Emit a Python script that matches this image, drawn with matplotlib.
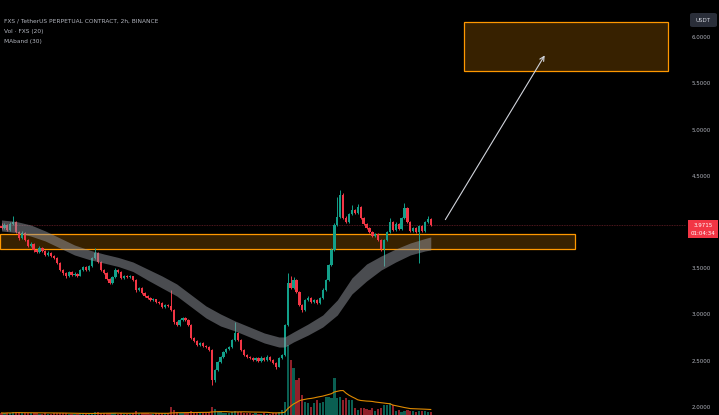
import matplotlib
matplotlib.use("Agg")
import matplotlib.pyplot as plt
from matplotlib.patches import Rectangle, FancyBboxPatch
import numpy as np
import pandas as pd

# ---- FXS/USDT perpetual, 2h candles ----
opens = [3.957, 3.935, 3.968, 3.914, 3.978, 4.000, 3.892, 3.827, 3.881, 3.805,
         3.740, 3.762, 3.697, 3.675, 3.719, 3.686, 3.643, 3.664, 3.632, 3.610,
         3.556, 3.480, 3.448, 3.415, 3.459, 3.426, 3.437, 3.415, 3.480, 3.513,
         3.480, 3.524, 3.610, 3.664, 3.567, 3.480, 3.448, 3.383, 3.340, 3.405,
         3.480, 3.459, 3.394, 3.415, 3.405, 3.415, 3.372, 3.264, 3.285, 3.231,
         3.199, 3.177, 3.155, 3.162, 3.134, 3.123, 3.080, 3.101, 3.091, 3.047,
         2.917, 2.885, 2.939, 2.961, 2.939, 2.885, 2.744, 2.712, 2.668, 2.690,
         2.657, 2.646, 2.614, 2.289, 2.397, 2.484, 2.538, 2.592, 2.625, 2.646,
         2.722, 2.798, 2.722, 2.614, 2.560, 2.538, 2.527, 2.506, 2.527, 2.495,
         2.527, 2.506, 2.538, 2.506, 2.473, 2.430, 2.527, 2.560, 2.885, 3.340,
         3.285, 3.372, 3.242, 3.101, 3.047, 3.155, 3.177, 3.134, 3.155, 3.123,
         3.177, 3.264, 3.372, 3.534, 3.697, 3.968, 4.054, 4.293, 4.043, 4.000,
         4.087, 4.130, 4.097, 4.163, 4.043, 3.978, 3.935, 3.892, 3.848, 3.870,
         3.805, 3.708, 3.805, 3.892, 4.000, 3.914, 3.978, 3.924, 4.043, 4.152,
         4.000, 3.903, 3.935, 3.892, 3.957, 3.903, 4.000, 4.033]

highs = [3.990, 3.985, 3.980, 3.995, 4.060, 4.010, 3.900, 3.900, 3.890, 3.815,
         3.780, 3.770, 3.710, 3.735, 3.725, 3.695, 3.690, 3.672, 3.640, 3.618,
         3.565, 3.490, 3.460, 3.470, 3.468, 3.455, 3.445, 3.495, 3.525, 3.520,
         3.535, 3.620, 3.720, 3.675, 3.575, 3.490, 3.455, 3.392, 3.415, 3.500,
         3.492, 3.468, 3.430, 3.425, 3.428, 3.420, 3.380, 3.300, 3.292, 3.240,
         3.208, 3.186, 3.180, 3.170, 3.145, 3.130, 3.115, 3.110, 3.265, 3.055,
         2.925, 2.950, 2.975, 2.970, 2.945, 2.892, 2.755, 2.722, 2.700, 2.698,
         2.665, 2.655, 2.622, 2.410, 2.495, 2.550, 2.605, 2.640, 2.660, 2.735,
         2.915, 2.810, 2.730, 2.625, 2.570, 2.548, 2.535, 2.540, 2.535, 2.545,
         2.535, 2.555, 2.545, 2.515, 2.480, 2.540, 2.575, 2.900, 3.448, 3.420,
         3.400, 3.385, 3.250, 3.110, 3.170, 3.195, 3.185, 3.170, 3.165, 3.190,
         3.280, 3.385, 3.550, 3.715, 3.990, 4.270, 4.350, 4.310, 4.060, 4.100,
         4.180, 4.145, 4.200, 4.175, 4.055, 3.990, 3.945, 3.900, 3.885, 3.878,
         3.815, 3.815, 3.905, 4.045, 4.010, 3.995, 3.990, 4.055, 4.205, 4.160,
         4.010, 3.950, 3.945, 3.970, 3.965, 4.015, 4.060, 4.045]

lows = [3.920, 3.925, 3.900, 3.905, 3.965, 3.880, 3.810, 3.815, 3.790, 3.725,
        3.730, 3.680, 3.660, 3.665, 3.670, 3.630, 3.635, 3.620, 3.598, 3.540,
        3.470, 3.430, 3.395, 3.405, 3.412, 3.418, 3.400, 3.410, 3.470, 3.470,
        3.472, 3.515, 3.600, 3.555, 3.470, 3.435, 3.370, 3.325, 3.332, 3.398,
        3.450, 3.385, 3.388, 3.395, 3.398, 3.360, 3.245, 3.250, 3.220, 3.188,
        3.165, 3.145, 3.148, 3.122, 3.110, 3.068, 3.072, 3.080, 3.035, 2.900,
        2.870, 2.878, 2.930, 2.925, 2.870, 2.730, 2.698, 2.655, 2.660, 2.645,
        2.635, 2.600, 2.235, 2.270, 2.388, 2.475, 2.528, 2.585, 2.615, 2.640,
        2.715, 2.710, 2.600, 2.548, 2.525, 2.515, 2.495, 2.498, 2.485, 2.488,
        2.495, 2.500, 2.495, 2.460, 2.410, 2.425, 2.515, 2.550, 2.870, 3.270,
        3.275, 3.230, 3.085, 3.030, 3.040, 3.145, 3.120, 3.125, 3.110, 3.115,
        3.170, 3.255, 3.365, 3.525, 3.690, 3.955, 4.040, 4.030, 3.985, 3.990,
        4.075, 4.085, 4.090, 4.030, 3.965, 3.920, 3.880, 3.835, 3.838, 3.790,
        3.690, 3.520, 3.795, 3.885, 3.900, 3.905, 3.910, 3.915, 4.035, 3.985,
        3.890, 3.895, 3.880, 3.560, 3.890, 3.895, 3.990, 3.960]

closes = [3.935, 3.968, 3.914, 3.978, 4.000, 3.892, 3.827, 3.881, 3.805, 3.740,
          3.762, 3.697, 3.675, 3.719, 3.686, 3.643, 3.664, 3.632, 3.610, 3.556,
          3.480, 3.448, 3.415, 3.459, 3.426, 3.437, 3.415, 3.480, 3.513, 3.480,
          3.524, 3.610, 3.664, 3.567, 3.480, 3.448, 3.383, 3.340, 3.405, 3.480,
          3.459, 3.394, 3.415, 3.405, 3.415, 3.372, 3.264, 3.285, 3.231, 3.199,
          3.177, 3.155, 3.162, 3.134, 3.123, 3.080, 3.101, 3.091, 3.047, 2.917,
          2.885, 2.939, 2.961, 2.939, 2.885, 2.744, 2.712, 2.668, 2.690, 2.657,
          2.646, 2.614, 2.289, 2.397, 2.484, 2.538, 2.592, 2.625, 2.646, 2.722,
          2.798, 2.722, 2.614, 2.560, 2.538, 2.527, 2.506, 2.527, 2.495, 2.527,
          2.506, 2.538, 2.506, 2.473, 2.430, 2.527, 2.560, 2.885, 3.340, 3.285,
          3.372, 3.242, 3.101, 3.047, 3.155, 3.177, 3.134, 3.155, 3.123, 3.177,
          3.264, 3.372, 3.534, 3.697, 3.968, 4.054, 4.293, 4.043, 4.000, 4.087,
          4.130, 4.097, 4.163, 4.043, 3.978, 3.935, 3.892, 3.848, 3.870, 3.805,
          3.708, 3.805, 3.892, 4.000, 3.914, 3.978, 3.924, 4.043, 4.152, 4.000,
          3.903, 3.935, 3.892, 3.957, 3.903, 4.000, 4.033, 3.9715]

volumes = [30, 25, 35, 28, 45, 40, 38, 25, 30, 35,
           22, 30, 25, 20, 18, 25, 20, 18, 22, 25,
           35, 28, 30, 20, 18, 15, 20, 25, 22, 18,
           20, 30, 45, 40, 35, 25, 30, 35, 22, 25,
           18, 22, 15, 18, 20, 25, 55, 30, 28, 25,
           22, 20, 18, 25, 22, 30, 25, 28, 110, 75,
           40, 35, 30, 25, 35, 55, 40, 45, 30, 35,
           28, 40, 120, 85, 50, 40, 35, 30, 25, 45,
           60, 50, 40, 30, 25, 22, 20, 25, 18, 20,
           22, 18, 20, 28, 35, 50, 72, 190, 1010, 795,
           680, 505, 535, 290, 190, 175, 115, 175, 215, 175,
           190, 260, 260, 245, 535, 245, 260, 215, 245, 215,
           215, 100, 72, 100, 100, 90, 75, 100, 60, 80,
           95, 145, 145, 175, 145, 60, 70, 50, 65, 72,
           55, 60, 50, 65, 55, 60, 45, 40]

# MA band (30) upper / lower edges, sampled along the candle index
band_idx = [0, 5, 10, 15, 20, 25, 30, 35, 40, 45, 50, 55, 60, 65, 70, 75, 80,
            85, 90, 95, 97, 100, 105, 110, 115, 120, 125, 130, 135, 140, 145, 147]
band_hi = [4.022, 4.006, 3.968, 3.903, 3.827, 3.751, 3.697, 3.654, 3.616, 3.567,
           3.491, 3.415, 3.329, 3.210, 3.091, 3.004, 2.928, 2.863, 2.798, 2.755,
           2.755, 2.809, 2.896, 2.993, 3.156, 3.394, 3.545, 3.632, 3.708, 3.773,
           3.821, 3.838]
band_lo = [3.903, 3.886, 3.848, 3.794, 3.719, 3.643, 3.594, 3.556, 3.518, 3.464,
           3.372, 3.285, 3.199, 3.080, 2.961, 2.874, 2.820, 2.755, 2.690, 2.646,
           2.646, 2.701, 2.776, 2.863, 2.993, 3.221, 3.361, 3.480, 3.567, 3.643,
           3.686, 3.697]

price_ticks = [2.0, 2.5, 3.0, 3.5, 4.5, 5.0, 5.5, 6.0]
last_price = 3.9715
countdown = "01:04:34"

# support zone and target zone (candle index range, price range)
support_zone = (-0.6, 196.4, 3.706, 3.872)
target_zone = (158.4, 228.3, 5.635, 6.166)
arrow_from = (151.5, 4.000)
arrow_to = (186.5, 5.830)

UP = "#12a08a"
DOWN = "#f23645"
TEXT = "#b2b5be"

W, H = 719, 415
fig = plt.figure(figsize=(W / 100, H / 100), dpi=100, facecolor="black")
plot_w = 686
rect = [0, 0, plot_w / W, 1]

o = np.array(opens)
h = np.array(highs)
l = np.array(lows)
c = np.array(closes)
v = np.array(volumes, dtype=float)
idx = np.arange(len(c))
rising = c >= o
colors = np.where(rising, UP, DOWN)

# volume pane (behind the price pane)
axv = fig.add_axes(rect)
axv.set_facecolor("black")
axv.bar(idx, v, width=0.75, color=colors, alpha=0.6, linewidth=0)
vol_ma = pd.Series(v).rolling(20, min_periods=1).mean()
axv.plot(idx, vol_ma, color="#e08a00", lw=0.8)
axv.set_ylim(0, 6000)
axv.set_xlim(-0.514, 234.4)
axv.axis("off")

ax = fig.add_axes(rect, sharex=axv)
ax.set_facecolor("none")

# zones
sx0, sx1, sy0, sy1 = support_zone
ax.add_patch(Rectangle((sx0, sy0), sx1 - sx0, sy1 - sy0, facecolor=(1, 0.6, 0, 0.22),
                       edgecolor="#ff9800", lw=0.9, zorder=1))
tx0, tx1, ty0, ty1 = target_zone
ax.add_patch(Rectangle((tx0, ty0), tx1 - tx0, ty1 - ty0, facecolor=(1, 0.6, 0, 0.22),
                       edgecolor="#ff9800", lw=0.9, zorder=1))

# last price line
ax.axhline(last_price, color="#6b1f27", lw=0.6, ls=(0, (1, 1)), zorder=0.5)

# candles
ax.vlines(idx, l, h, colors=colors, lw=0.7, zorder=3)
body_lo = np.minimum(o, c)
body_h = np.maximum(np.abs(c - o), 0.008)
ax.bar(idx, body_h, bottom=body_lo, width=0.78, color=colors, linewidth=0, zorder=4)

# MA band drawn over the candles
ax.fill_between(band_idx, band_lo, band_hi, color="#9598a1", alpha=0.5, lw=0, zorder=5)

# projection arrow
ax.annotate("", xy=arrow_to, xytext=arrow_from,
            arrowprops=dict(arrowstyle="->", color="#d1d4dc", lw=0.8, mutation_scale=8),
            zorder=6)

ax.set_ylim(1.910, 6.404)
ax.set_xlim(-0.514, 234.4)
for s in ax.spines.values():
    s.set_visible(False)
ax.tick_params(axis="x", bottom=False, labelbottom=False)
ax.yaxis.tick_right()
ax.set_yticks(price_ticks)
ax.set_yticklabels([f"{t:.4f}" for t in price_ticks])
ax.tick_params(axis="y", length=0, pad=4.3, labelsize=4, labelcolor=TEXT)

# price scale decorations
fig.add_artist(FancyBboxPatch((690 / W, 1 - 27 / H), 27 / W, 14 / H,
                              boxstyle="round,pad=0,rounding_size=0.004",
                              transform=fig.transFigure, facecolor="#2a2e39",
                              edgecolor="none"))
fig.text(703.5 / W, 1 - 20 / H, "USDT", ha="center", va="center", fontsize=4,
         color="#d1d4dc")
fig.add_artist(Rectangle((688 / W, 1 - 238 / H), 30 / W, 18 / H,
                         transform=fig.transFigure, facecolor=DOWN, edgecolor="none"))
fig.text(703 / W, 1 - 225.5 / H, f"{last_price:.4f}", ha="center", va="center",
         fontsize=4, color="white")
fig.text(703 / W, 1 - 233 / H, countdown, ha="center", va="center",
         fontsize=4, color="white")

# legend header
fig.text(4 / W, 1 - 20.7 / H, "FXS / TetherUS PERPETUAL CONTRACT, 2h, BINANCE",
         va="center", fontsize=4.2, color=TEXT)
fig.text(4 / W, 1 - 31 / H, "Vol · FXS (20)", va="center", fontsize=4.2, color=TEXT)
fig.text(4 / W, 1 - 42 / H, "MAband (30)", va="center", fontsize=4.2, color=TEXT)

fig.savefig("out.png", dpi=100, facecolor="black")
